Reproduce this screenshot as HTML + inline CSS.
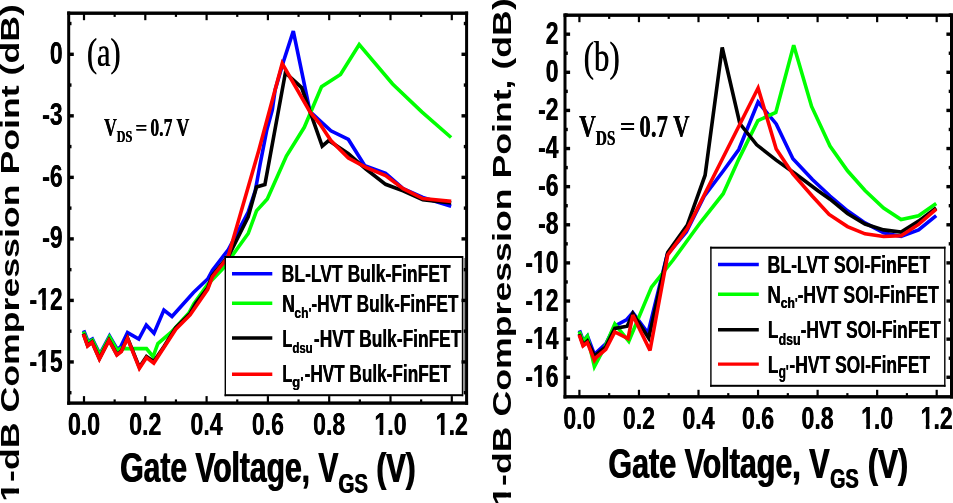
<!DOCTYPE html>
<html><head><meta charset="utf-8"><style>html,body{margin:0;padding:0;background:#fff;width:953px;height:503px;overflow:hidden}svg{display:block;will-change:transform}</style></head>
<body>
<svg width="953" height="503" viewBox="0 0 953 503">
<rect width="953" height="503" fill="#fff"/>
<polyline points="83.7,330.3 88.0,341.5 92.4,339.0 99.9,354.2 109.5,336.0 117.3,349.5 120.8,346.5 127.5,332.6 138.8,339.0 146.3,325.0 154.0,333.2 163.9,310.1 172.0,316.5 193.5,292.5 207.7,279.0 212.5,270.2 228.4,249.5 248.2,212.0 255.3,190.6 260.1,164.3 266.8,130.0 272.3,110.0 275.1,90.0 283.3,62.0 293.3,31.1 310.0,111.5 320.0,120.9 330.9,130.8 348.4,139.5 364.8,165.8 385.6,173.4 403.1,188.7 422.8,197.5 451.2,206.2" fill="none" stroke="#0000ff" stroke-width="3.6" stroke-linejoin="miter" stroke-miterlimit="3" />
<polyline points="83.4,331.6 88.0,342.5 92.4,340.0 99.9,355.2 109.5,337.0 117.3,350.5 120.8,348.2 123.9,348.6 146.5,348.6 153.1,356.7 157.9,343.5 171.0,332.5 188.9,313.0 193.7,304.0 207.7,284.5 223.6,267.8 232.7,255.0 248.2,233.5 256.5,210.9 267.3,198.9 286.4,156.0 304.3,127.3 321.5,86.8 340.5,74.5 359.2,44.5 392.6,84.0 421.8,111.8 451.1,137.5" fill="none" stroke="#00ff00" stroke-width="3.6" stroke-linejoin="miter" stroke-miterlimit="3" />
<polyline points="83.4,333.7 87.6,345.5 92.0,341.8 99.4,358.5 109.0,340.0 116.9,354.5 121.3,351.2 127.5,337.8 139.4,367.3 146.5,356.5 153.8,361.5 164.0,346.5 175.8,327.7 190.1,313.4 196.0,303.0 201.4,296.0 207.7,287.8 212.0,276.0 229.1,255.0 248.2,216.8 256.5,187.0 264.9,184.6 285.4,72.7 301.6,87.6 322.2,146.1 328.7,140.6 348.4,153.7 365.9,169.0 385.6,184.3 403.1,190.9 422.8,199.7 451.2,202.9" fill="none" stroke="#000" stroke-width="3.6" stroke-linejoin="miter" stroke-miterlimit="3" />
<polyline points="83.4,334.2 87.6,346.0 92.0,342.3 99.4,359.0 109.0,340.5 116.9,355.0 121.3,351.7 127.5,338.3 139.4,368.3 146.5,357.5 153.8,363.1 175.8,329.2 190.1,314.9 207.7,289.3 212.5,276.6 227.9,257.4 258.9,150.0 282.2,63.5 310.0,112.0 320.0,124.0 330.9,140.6 348.4,158.1 365.9,167.3 385.6,175.6 403.1,188.7 422.8,198.6 451.2,201.4" fill="none" stroke="#ff0000" stroke-width="3.6" stroke-linejoin="miter" stroke-miterlimit="3" />
<rect x="225.30" y="257.00" width="237.20" height="138.20" fill="#fff"/>
<rect x="224.60" y="256.00" width="238.60" height="2.00" fill="#000"/>
<rect x="224.60" y="394.20" width="238.60" height="2.00" fill="#000"/>
<rect x="224.60" y="256.00" width="1.40" height="140.20" fill="#000"/>
<rect x="461.80" y="256.00" width="1.40" height="140.20" fill="#000"/>
<rect x="463.2" y="258" width="2.2" height="136" fill="#8c8c8c"/>
<line x1="232.00" y1="273.70" x2="272.30" y2="273.70" stroke="#0000ff" stroke-width="3.4"/>
<line x1="232.00" y1="303.20" x2="272.30" y2="303.20" stroke="#00ff00" stroke-width="3.4"/>
<line x1="232.00" y1="338.00" x2="272.30" y2="338.00" stroke="#000" stroke-width="3.4"/>
<line x1="232.00" y1="374.20" x2="272.30" y2="374.20" stroke="#ff0000" stroke-width="3.4"/>
<line x1="84.00" y1="403.10" x2="84.00" y2="396.10" stroke="#000" stroke-width="2.2"/>
<line x1="84.00" y1="13.20" x2="84.00" y2="20.20" stroke="#000" stroke-width="2.2"/>
<line x1="145.30" y1="403.10" x2="145.30" y2="396.10" stroke="#000" stroke-width="2.2"/>
<line x1="145.30" y1="13.20" x2="145.30" y2="20.20" stroke="#000" stroke-width="2.2"/>
<line x1="206.60" y1="403.10" x2="206.60" y2="396.10" stroke="#000" stroke-width="2.2"/>
<line x1="206.60" y1="13.20" x2="206.60" y2="20.20" stroke="#000" stroke-width="2.2"/>
<line x1="267.90" y1="403.10" x2="267.90" y2="396.10" stroke="#000" stroke-width="2.2"/>
<line x1="267.90" y1="13.20" x2="267.90" y2="20.20" stroke="#000" stroke-width="2.2"/>
<line x1="329.20" y1="403.10" x2="329.20" y2="396.10" stroke="#000" stroke-width="2.2"/>
<line x1="329.20" y1="13.20" x2="329.20" y2="20.20" stroke="#000" stroke-width="2.2"/>
<line x1="390.50" y1="403.10" x2="390.50" y2="396.10" stroke="#000" stroke-width="2.2"/>
<line x1="390.50" y1="13.20" x2="390.50" y2="20.20" stroke="#000" stroke-width="2.2"/>
<line x1="451.80" y1="403.10" x2="451.80" y2="396.10" stroke="#000" stroke-width="2.2"/>
<line x1="451.80" y1="13.20" x2="451.80" y2="20.20" stroke="#000" stroke-width="2.2"/>
<line x1="114.65" y1="403.10" x2="114.65" y2="399.40" stroke="#000" stroke-width="2.2"/>
<line x1="114.65" y1="13.20" x2="114.65" y2="16.90" stroke="#000" stroke-width="2.2"/>
<line x1="175.95" y1="403.10" x2="175.95" y2="399.40" stroke="#000" stroke-width="2.2"/>
<line x1="175.95" y1="13.20" x2="175.95" y2="16.90" stroke="#000" stroke-width="2.2"/>
<line x1="237.25" y1="403.10" x2="237.25" y2="399.40" stroke="#000" stroke-width="2.2"/>
<line x1="237.25" y1="13.20" x2="237.25" y2="16.90" stroke="#000" stroke-width="2.2"/>
<line x1="298.55" y1="403.10" x2="298.55" y2="399.40" stroke="#000" stroke-width="2.2"/>
<line x1="298.55" y1="13.20" x2="298.55" y2="16.90" stroke="#000" stroke-width="2.2"/>
<line x1="359.85" y1="403.10" x2="359.85" y2="399.40" stroke="#000" stroke-width="2.2"/>
<line x1="359.85" y1="13.20" x2="359.85" y2="16.90" stroke="#000" stroke-width="2.2"/>
<line x1="421.15" y1="403.10" x2="421.15" y2="399.40" stroke="#000" stroke-width="2.2"/>
<line x1="421.15" y1="13.20" x2="421.15" y2="16.90" stroke="#000" stroke-width="2.2"/>
<line x1="68.70" y1="54.30" x2="73.80" y2="54.30" stroke="#000" stroke-width="3.4"/>
<line x1="466.60" y1="54.30" x2="461.50" y2="54.30" stroke="#000" stroke-width="3.4"/>
<line x1="68.70" y1="115.83" x2="73.80" y2="115.83" stroke="#000" stroke-width="3.4"/>
<line x1="466.60" y1="115.83" x2="461.50" y2="115.83" stroke="#000" stroke-width="3.4"/>
<line x1="68.70" y1="177.36" x2="73.80" y2="177.36" stroke="#000" stroke-width="3.4"/>
<line x1="466.60" y1="177.36" x2="461.50" y2="177.36" stroke="#000" stroke-width="3.4"/>
<line x1="68.70" y1="238.89" x2="73.80" y2="238.89" stroke="#000" stroke-width="3.4"/>
<line x1="466.60" y1="238.89" x2="461.50" y2="238.89" stroke="#000" stroke-width="3.4"/>
<line x1="68.70" y1="300.42" x2="73.80" y2="300.42" stroke="#000" stroke-width="3.4"/>
<line x1="466.60" y1="300.42" x2="461.50" y2="300.42" stroke="#000" stroke-width="3.4"/>
<line x1="68.70" y1="361.95" x2="73.80" y2="361.95" stroke="#000" stroke-width="3.4"/>
<line x1="466.60" y1="361.95" x2="461.50" y2="361.95" stroke="#000" stroke-width="3.4"/>
<line x1="68.70" y1="23.53" x2="71.50" y2="23.53" stroke="#000" stroke-width="3.4"/>
<line x1="466.60" y1="23.53" x2="463.80" y2="23.53" stroke="#000" stroke-width="3.4"/>
<line x1="68.70" y1="85.06" x2="71.50" y2="85.06" stroke="#000" stroke-width="3.4"/>
<line x1="466.60" y1="85.06" x2="463.80" y2="85.06" stroke="#000" stroke-width="3.4"/>
<line x1="68.70" y1="146.59" x2="71.50" y2="146.59" stroke="#000" stroke-width="3.4"/>
<line x1="466.60" y1="146.59" x2="463.80" y2="146.59" stroke="#000" stroke-width="3.4"/>
<line x1="68.70" y1="208.12" x2="71.50" y2="208.12" stroke="#000" stroke-width="3.4"/>
<line x1="466.60" y1="208.12" x2="463.80" y2="208.12" stroke="#000" stroke-width="3.4"/>
<line x1="68.70" y1="269.66" x2="71.50" y2="269.66" stroke="#000" stroke-width="3.4"/>
<line x1="466.60" y1="269.66" x2="463.80" y2="269.66" stroke="#000" stroke-width="3.4"/>
<line x1="68.70" y1="331.19" x2="71.50" y2="331.19" stroke="#000" stroke-width="3.4"/>
<line x1="466.60" y1="331.19" x2="463.80" y2="331.19" stroke="#000" stroke-width="3.4"/>
<line x1="68.70" y1="392.72" x2="71.50" y2="392.72" stroke="#000" stroke-width="3.4"/>
<line x1="466.60" y1="392.72" x2="463.80" y2="392.72" stroke="#000" stroke-width="3.4"/>
<rect x="67.20" y="11.50" width="400.90" height="3.40" fill="#000"/>
<rect x="67.20" y="401.40" width="400.90" height="3.40" fill="#000"/>
<rect x="67.20" y="11.50" width="3.00" height="393.30" fill="#000"/>
<rect x="465.10" y="11.50" width="3.00" height="393.30" fill="#000"/>
<polyline points="579.5,330.4 583.4,341.0 587.4,336.0 594.4,354.3 605.8,343.9 614.8,326.0 626.4,319.9 632.8,312.7 648.0,333.0 667.2,254.6 686.3,231.9 704.2,196.1 723.2,171.0 738.8,149.5 758.1,102.0 776.2,123.9 792.9,158.7 812.4,179.6 830.0,196.0 847.5,210.8 865.0,222.9 883.6,232.7 901.1,236.5 918.6,229.9 936.2,215.7" fill="none" stroke="#0000ff" stroke-width="3.6" stroke-linejoin="miter" stroke-miterlimit="3" />
<polyline points="579.2,331.4 583.4,341.4 587.4,336.4 594.4,366.7 605.8,345.0 614.8,324.0 628.8,341.3 651.5,287.1 673.1,260.0 700.6,222.3 723.2,193.7 738.8,159.1 757.9,120.7 775.8,112.4 793.7,45.3 811.6,106.4 830.0,146.0 847.5,170.8 865.0,190.5 883.6,208.0 901.1,219.6 918.6,215.7 936.2,203.6" fill="none" stroke="#00ff00" stroke-width="3.6" stroke-linejoin="miter" stroke-miterlimit="3" />
<polyline points="579.3,334.0 583.2,345.0 587.4,341.0 594.4,355.8 605.8,346.8 614.8,328.4 627.2,326.2 632.8,313.5 648.7,338.1 667.7,252.5 687.3,225.0 705.1,175.2 722.2,47.5 739.8,123.5 756.7,144.8 776.2,160.1 795.7,174.0 818.0,190.8 830.0,199.2 847.5,213.5 865.0,224.0 883.6,229.9 901.1,232.1 918.6,221.1 936.2,208.0" fill="none" stroke="#000" stroke-width="3.6" stroke-linejoin="miter" stroke-miterlimit="3" />
<polyline points="579.2,334.9 583.0,345.8 587.4,342.5 594.4,360.3 596.4,357.3 605.8,349.3 614.8,332.0 628.0,338.6 632.8,315.1 650.0,350.5 667.7,254.9 687.3,228.6 758.1,88.0 776.2,149.0 792.9,174.0 812.4,196.3 829.1,214.4 847.5,226.6 865.0,233.8 883.6,236.5 901.1,235.8 918.6,224.4 936.2,209.1" fill="none" stroke="#ff0000" stroke-width="3.6" stroke-linejoin="miter" stroke-miterlimit="3" />
<rect x="710.90" y="247.70" width="233.90" height="138.10" fill="#fff"/>
<rect x="710.20" y="246.70" width="235.30" height="2.00" fill="#000"/>
<rect x="710.20" y="384.80" width="235.30" height="2.00" fill="#000"/>
<rect x="710.20" y="246.70" width="1.40" height="140.10" fill="#000"/>
<rect x="944.10" y="246.70" width="1.40" height="140.10" fill="#000"/>
<line x1="718.00" y1="264.50" x2="758.80" y2="264.50" stroke="#0000ff" stroke-width="3.4"/>
<line x1="718.00" y1="294.30" x2="758.80" y2="294.30" stroke="#00ff00" stroke-width="3.4"/>
<line x1="718.00" y1="329.70" x2="758.80" y2="329.70" stroke="#000" stroke-width="3.4"/>
<line x1="718.00" y1="364.10" x2="758.80" y2="364.10" stroke="#ff0000" stroke-width="3.4"/>
<line x1="579.40" y1="396.80" x2="579.40" y2="389.80" stroke="#000" stroke-width="2.2"/>
<line x1="579.40" y1="15.20" x2="579.40" y2="22.20" stroke="#000" stroke-width="2.2"/>
<line x1="638.95" y1="396.80" x2="638.95" y2="389.80" stroke="#000" stroke-width="2.2"/>
<line x1="638.95" y1="15.20" x2="638.95" y2="22.20" stroke="#000" stroke-width="2.2"/>
<line x1="698.50" y1="396.80" x2="698.50" y2="389.80" stroke="#000" stroke-width="2.2"/>
<line x1="698.50" y1="15.20" x2="698.50" y2="22.20" stroke="#000" stroke-width="2.2"/>
<line x1="758.05" y1="396.80" x2="758.05" y2="389.80" stroke="#000" stroke-width="2.2"/>
<line x1="758.05" y1="15.20" x2="758.05" y2="22.20" stroke="#000" stroke-width="2.2"/>
<line x1="817.60" y1="396.80" x2="817.60" y2="389.80" stroke="#000" stroke-width="2.2"/>
<line x1="817.60" y1="15.20" x2="817.60" y2="22.20" stroke="#000" stroke-width="2.2"/>
<line x1="877.15" y1="396.80" x2="877.15" y2="389.80" stroke="#000" stroke-width="2.2"/>
<line x1="877.15" y1="15.20" x2="877.15" y2="22.20" stroke="#000" stroke-width="2.2"/>
<line x1="936.70" y1="396.80" x2="936.70" y2="389.80" stroke="#000" stroke-width="2.2"/>
<line x1="936.70" y1="15.20" x2="936.70" y2="22.20" stroke="#000" stroke-width="2.2"/>
<line x1="609.17" y1="396.80" x2="609.17" y2="393.10" stroke="#000" stroke-width="2.2"/>
<line x1="609.17" y1="15.20" x2="609.17" y2="18.90" stroke="#000" stroke-width="2.2"/>
<line x1="668.73" y1="396.80" x2="668.73" y2="393.10" stroke="#000" stroke-width="2.2"/>
<line x1="668.73" y1="15.20" x2="668.73" y2="18.90" stroke="#000" stroke-width="2.2"/>
<line x1="728.27" y1="396.80" x2="728.27" y2="393.10" stroke="#000" stroke-width="2.2"/>
<line x1="728.27" y1="15.20" x2="728.27" y2="18.90" stroke="#000" stroke-width="2.2"/>
<line x1="787.83" y1="396.80" x2="787.83" y2="393.10" stroke="#000" stroke-width="2.2"/>
<line x1="787.83" y1="15.20" x2="787.83" y2="18.90" stroke="#000" stroke-width="2.2"/>
<line x1="847.38" y1="396.80" x2="847.38" y2="393.10" stroke="#000" stroke-width="2.2"/>
<line x1="847.38" y1="15.20" x2="847.38" y2="18.90" stroke="#000" stroke-width="2.2"/>
<line x1="906.92" y1="396.80" x2="906.92" y2="393.10" stroke="#000" stroke-width="2.2"/>
<line x1="906.92" y1="15.20" x2="906.92" y2="18.90" stroke="#000" stroke-width="2.2"/>
<line x1="565.00" y1="34.18" x2="570.10" y2="34.18" stroke="#000" stroke-width="3.4"/>
<line x1="951.50" y1="34.18" x2="946.40" y2="34.18" stroke="#000" stroke-width="3.4"/>
<line x1="565.00" y1="72.30" x2="570.10" y2="72.30" stroke="#000" stroke-width="3.4"/>
<line x1="951.50" y1="72.30" x2="946.40" y2="72.30" stroke="#000" stroke-width="3.4"/>
<line x1="565.00" y1="110.42" x2="570.10" y2="110.42" stroke="#000" stroke-width="3.4"/>
<line x1="951.50" y1="110.42" x2="946.40" y2="110.42" stroke="#000" stroke-width="3.4"/>
<line x1="565.00" y1="148.54" x2="570.10" y2="148.54" stroke="#000" stroke-width="3.4"/>
<line x1="951.50" y1="148.54" x2="946.40" y2="148.54" stroke="#000" stroke-width="3.4"/>
<line x1="565.00" y1="186.66" x2="570.10" y2="186.66" stroke="#000" stroke-width="3.4"/>
<line x1="951.50" y1="186.66" x2="946.40" y2="186.66" stroke="#000" stroke-width="3.4"/>
<line x1="565.00" y1="224.78" x2="570.10" y2="224.78" stroke="#000" stroke-width="3.4"/>
<line x1="951.50" y1="224.78" x2="946.40" y2="224.78" stroke="#000" stroke-width="3.4"/>
<line x1="565.00" y1="262.90" x2="570.10" y2="262.90" stroke="#000" stroke-width="3.4"/>
<line x1="951.50" y1="262.90" x2="946.40" y2="262.90" stroke="#000" stroke-width="3.4"/>
<line x1="565.00" y1="301.02" x2="570.10" y2="301.02" stroke="#000" stroke-width="3.4"/>
<line x1="951.50" y1="301.02" x2="946.40" y2="301.02" stroke="#000" stroke-width="3.4"/>
<line x1="565.00" y1="339.14" x2="570.10" y2="339.14" stroke="#000" stroke-width="3.4"/>
<line x1="951.50" y1="339.14" x2="946.40" y2="339.14" stroke="#000" stroke-width="3.4"/>
<line x1="565.00" y1="377.26" x2="570.10" y2="377.26" stroke="#000" stroke-width="3.4"/>
<line x1="951.50" y1="377.26" x2="946.40" y2="377.26" stroke="#000" stroke-width="3.4"/>
<line x1="565.00" y1="15.12" x2="567.80" y2="15.12" stroke="#000" stroke-width="3.4"/>
<line x1="951.50" y1="15.12" x2="948.70" y2="15.12" stroke="#000" stroke-width="3.4"/>
<line x1="565.00" y1="53.24" x2="567.80" y2="53.24" stroke="#000" stroke-width="3.4"/>
<line x1="951.50" y1="53.24" x2="948.70" y2="53.24" stroke="#000" stroke-width="3.4"/>
<line x1="565.00" y1="91.36" x2="567.80" y2="91.36" stroke="#000" stroke-width="3.4"/>
<line x1="951.50" y1="91.36" x2="948.70" y2="91.36" stroke="#000" stroke-width="3.4"/>
<line x1="565.00" y1="129.48" x2="567.80" y2="129.48" stroke="#000" stroke-width="3.4"/>
<line x1="951.50" y1="129.48" x2="948.70" y2="129.48" stroke="#000" stroke-width="3.4"/>
<line x1="565.00" y1="167.60" x2="567.80" y2="167.60" stroke="#000" stroke-width="3.4"/>
<line x1="951.50" y1="167.60" x2="948.70" y2="167.60" stroke="#000" stroke-width="3.4"/>
<line x1="565.00" y1="205.72" x2="567.80" y2="205.72" stroke="#000" stroke-width="3.4"/>
<line x1="951.50" y1="205.72" x2="948.70" y2="205.72" stroke="#000" stroke-width="3.4"/>
<line x1="565.00" y1="243.84" x2="567.80" y2="243.84" stroke="#000" stroke-width="3.4"/>
<line x1="951.50" y1="243.84" x2="948.70" y2="243.84" stroke="#000" stroke-width="3.4"/>
<line x1="565.00" y1="281.96" x2="567.80" y2="281.96" stroke="#000" stroke-width="3.4"/>
<line x1="951.50" y1="281.96" x2="948.70" y2="281.96" stroke="#000" stroke-width="3.4"/>
<line x1="565.00" y1="320.08" x2="567.80" y2="320.08" stroke="#000" stroke-width="3.4"/>
<line x1="951.50" y1="320.08" x2="948.70" y2="320.08" stroke="#000" stroke-width="3.4"/>
<line x1="565.00" y1="358.20" x2="567.80" y2="358.20" stroke="#000" stroke-width="3.4"/>
<line x1="951.50" y1="358.20" x2="948.70" y2="358.20" stroke="#000" stroke-width="3.4"/>
<rect x="563.50" y="13.50" width="389.50" height="3.40" fill="#000"/>
<rect x="563.50" y="395.10" width="389.50" height="3.40" fill="#000"/>
<rect x="563.50" y="13.50" width="3.00" height="385.00" fill="#000"/>
<rect x="950.00" y="13.50" width="3.00" height="385.00" fill="#000"/>
<g transform="translate(18.80 501.80) rotate(-90) scale(0.3570 0.2551)"><text font-family="Liberation Sans" font-weight="bold" font-style="normal" font-size="100" xml:space="preserve">1-dB Compression Point (dB)</text><rect x="2.30" y="-17.21" width="20.74" height="24.21" fill="#fff"/><rect x="37.36" y="-17.21" width="19.77" height="24.21" fill="#fff"/></g>
<g transform="translate(510.80 505.80) rotate(-90) scale(0.3570 0.2652)"><text font-family="Liberation Sans" font-weight="bold" font-style="normal" font-size="100" xml:space="preserve">1-dB Compression Point, (dB)</text><rect x="2.30" y="-17.21" width="20.74" height="24.21" fill="#fff"/><rect x="37.36" y="-17.21" width="19.77" height="24.21" fill="#fff"/></g>
<g transform="translate(119.80 482.00) scale(0.3006 0.4300)"><text font-family="Liberation Sans" font-weight="bold" font-style="normal" font-size="100" xml:space="preserve">Gate Voltage, V</text><text x="2.99" y="0.00" font-family="Liberation Sans" font-weight="bold" font-style="normal" font-size="100" xml:space="preserve">Gate Voltage, V</text></g>
<g transform="translate(338.09 492.62) scale(0.2037 0.2845)"><text font-family="Liberation Sans" font-weight="bold" font-style="normal" font-size="100" xml:space="preserve">GS</text><text x="4.42" y="0.00" font-family="Liberation Sans" font-weight="bold" font-style="normal" font-size="100" xml:space="preserve">GS</text></g>
<g transform="translate(376.03 481.96) scale(0.2935 0.4021)"><text font-family="Liberation Sans" font-weight="bold" font-style="normal" font-size="100" xml:space="preserve">(V)</text><text x="3.07" y="0.00" font-family="Liberation Sans" font-weight="bold" font-style="normal" font-size="100" xml:space="preserve">(V)</text></g>
<g transform="translate(607.98 478.00) scale(0.3046 0.4343)"><text font-family="Liberation Sans" font-weight="bold" font-style="normal" font-size="100" xml:space="preserve">Gate Voltage, V</text><text x="2.95" y="0.00" font-family="Liberation Sans" font-weight="bold" font-style="normal" font-size="100" xml:space="preserve">Gate Voltage, V</text></g>
<g transform="translate(829.71 488.43) scale(0.1971 0.2718)"><text font-family="Liberation Sans" font-weight="bold" font-style="normal" font-size="100" xml:space="preserve">GS</text><text x="4.57" y="0.00" font-family="Liberation Sans" font-weight="bold" font-style="normal" font-size="100" xml:space="preserve">GS</text></g>
<g transform="translate(867.60 477.76) scale(0.3000 0.4021)"><text font-family="Liberation Sans" font-weight="bold" font-style="normal" font-size="100" xml:space="preserve">(V)</text><text x="3.00" y="0.00" font-family="Liberation Sans" font-weight="bold" font-style="normal" font-size="100" xml:space="preserve">(V)</text></g>
<g transform="translate(67.74 435.19) scale(0.2310 0.3056)"><text font-family="Liberation Sans" font-weight="bold" font-style="normal" font-size="100" xml:space="preserve">0.0</text><text x="1.73" y="0.00" font-family="Liberation Sans" font-weight="bold" font-style="normal" font-size="100" xml:space="preserve">0.0</text></g>
<g transform="translate(563.14 428.58) scale(0.2310 0.3155)"><text font-family="Liberation Sans" font-weight="bold" font-style="normal" font-size="100" xml:space="preserve">0.0</text><text x="1.73" y="0.00" font-family="Liberation Sans" font-weight="bold" font-style="normal" font-size="100" xml:space="preserve">0.0</text></g>
<g transform="translate(129.04 435.19) scale(0.2310 0.3056)"><text font-family="Liberation Sans" font-weight="bold" font-style="normal" font-size="100" xml:space="preserve">0.2</text><text x="1.73" y="0.00" font-family="Liberation Sans" font-weight="bold" font-style="normal" font-size="100" xml:space="preserve">0.2</text></g>
<g transform="translate(622.69 428.58) scale(0.2310 0.3155)"><text font-family="Liberation Sans" font-weight="bold" font-style="normal" font-size="100" xml:space="preserve">0.2</text><text x="1.73" y="0.00" font-family="Liberation Sans" font-weight="bold" font-style="normal" font-size="100" xml:space="preserve">0.2</text></g>
<g transform="translate(190.34 435.19) scale(0.2310 0.3056)"><text font-family="Liberation Sans" font-weight="bold" font-style="normal" font-size="100" xml:space="preserve">0.4</text><text x="1.73" y="0.00" font-family="Liberation Sans" font-weight="bold" font-style="normal" font-size="100" xml:space="preserve">0.4</text></g>
<g transform="translate(682.24 428.58) scale(0.2310 0.3155)"><text font-family="Liberation Sans" font-weight="bold" font-style="normal" font-size="100" xml:space="preserve">0.4</text><text x="1.73" y="0.00" font-family="Liberation Sans" font-weight="bold" font-style="normal" font-size="100" xml:space="preserve">0.4</text></g>
<g transform="translate(251.64 435.19) scale(0.2310 0.3056)"><text font-family="Liberation Sans" font-weight="bold" font-style="normal" font-size="100" xml:space="preserve">0.6</text><text x="1.73" y="0.00" font-family="Liberation Sans" font-weight="bold" font-style="normal" font-size="100" xml:space="preserve">0.6</text></g>
<g transform="translate(741.79 428.58) scale(0.2310 0.3155)"><text font-family="Liberation Sans" font-weight="bold" font-style="normal" font-size="100" xml:space="preserve">0.6</text><text x="1.73" y="0.00" font-family="Liberation Sans" font-weight="bold" font-style="normal" font-size="100" xml:space="preserve">0.6</text></g>
<g transform="translate(312.94 435.19) scale(0.2310 0.3056)"><text font-family="Liberation Sans" font-weight="bold" font-style="normal" font-size="100" xml:space="preserve">0.8</text><text x="1.73" y="0.00" font-family="Liberation Sans" font-weight="bold" font-style="normal" font-size="100" xml:space="preserve">0.8</text></g>
<g transform="translate(801.34 428.58) scale(0.2310 0.3155)"><text font-family="Liberation Sans" font-weight="bold" font-style="normal" font-size="100" xml:space="preserve">0.8</text><text x="1.73" y="0.00" font-family="Liberation Sans" font-weight="bold" font-style="normal" font-size="100" xml:space="preserve">0.8</text></g>
<g transform="translate(374.24 435.19) scale(0.2310 0.3056)"><text font-family="Liberation Sans" font-weight="bold" font-style="normal" font-size="100" xml:space="preserve">1.0</text><text x="1.73" y="0.00" font-family="Liberation Sans" font-weight="bold" font-style="normal" font-size="100" xml:space="preserve">1.0</text><rect x="2.30" y="-17.21" width="20.74" height="24.21" fill="#fff"/><rect x="39.09" y="-17.21" width="19.77" height="24.21" fill="#fff"/></g>
<g transform="translate(860.89 428.58) scale(0.2310 0.3155)"><text font-family="Liberation Sans" font-weight="bold" font-style="normal" font-size="100" xml:space="preserve">1.0</text><text x="1.73" y="0.00" font-family="Liberation Sans" font-weight="bold" font-style="normal" font-size="100" xml:space="preserve">1.0</text><rect x="2.30" y="-17.21" width="20.74" height="24.21" fill="#fff"/><rect x="39.09" y="-17.21" width="19.77" height="24.21" fill="#fff"/></g>
<g transform="translate(435.54 435.19) scale(0.2310 0.3056)"><text font-family="Liberation Sans" font-weight="bold" font-style="normal" font-size="100" xml:space="preserve">1.2</text><text x="1.73" y="0.00" font-family="Liberation Sans" font-weight="bold" font-style="normal" font-size="100" xml:space="preserve">1.2</text><rect x="2.30" y="-17.21" width="20.74" height="24.21" fill="#fff"/><rect x="39.09" y="-17.21" width="19.77" height="24.21" fill="#fff"/></g>
<g transform="translate(920.44 428.58) scale(0.2310 0.3155)"><text font-family="Liberation Sans" font-weight="bold" font-style="normal" font-size="100" xml:space="preserve">1.2</text><text x="1.73" y="0.00" font-family="Liberation Sans" font-weight="bold" font-style="normal" font-size="100" xml:space="preserve">1.2</text><rect x="2.30" y="-17.21" width="20.74" height="24.21" fill="#fff"/><rect x="39.09" y="-17.21" width="19.77" height="24.21" fill="#fff"/></g>
<g transform="translate(49.66 63.88) scale(0.2290 0.3155)"><text font-family="Liberation Sans" font-weight="bold" font-style="normal" font-size="100" xml:space="preserve">0</text><text x="1.75" y="0.00" font-family="Liberation Sans" font-weight="bold" font-style="normal" font-size="100" xml:space="preserve">0</text></g>
<g transform="translate(42.04 125.41) scale(0.2290 0.3155)"><text font-family="Liberation Sans" font-weight="bold" font-style="normal" font-size="100" xml:space="preserve">-3</text><text x="1.75" y="0.00" font-family="Liberation Sans" font-weight="bold" font-style="normal" font-size="100" xml:space="preserve">-3</text></g>
<g transform="translate(42.04 186.94) scale(0.2290 0.3155)"><text font-family="Liberation Sans" font-weight="bold" font-style="normal" font-size="100" xml:space="preserve">-6</text><text x="1.75" y="0.00" font-family="Liberation Sans" font-weight="bold" font-style="normal" font-size="100" xml:space="preserve">-6</text></g>
<g transform="translate(42.04 248.47) scale(0.2290 0.3155)"><text font-family="Liberation Sans" font-weight="bold" font-style="normal" font-size="100" xml:space="preserve">-9</text><text x="1.75" y="0.00" font-family="Liberation Sans" font-weight="bold" font-style="normal" font-size="100" xml:space="preserve">-9</text></g>
<g transform="translate(29.30 310.00) scale(0.2290 0.3155)"><text font-family="Liberation Sans" font-weight="bold" font-style="normal" font-size="100" xml:space="preserve">-12</text><text x="1.75" y="0.00" font-family="Liberation Sans" font-weight="bold" font-style="normal" font-size="100" xml:space="preserve">-12</text><rect x="35.60" y="-17.21" width="20.74" height="24.21" fill="#fff"/><rect x="72.41" y="-17.21" width="19.77" height="24.21" fill="#fff"/></g>
<g transform="translate(29.30 371.53) scale(0.2290 0.3155)"><text font-family="Liberation Sans" font-weight="bold" font-style="normal" font-size="100" xml:space="preserve">-15</text><text x="1.75" y="0.00" font-family="Liberation Sans" font-weight="bold" font-style="normal" font-size="100" xml:space="preserve">-15</text><rect x="35.60" y="-17.21" width="20.74" height="24.21" fill="#fff"/><rect x="72.41" y="-17.21" width="19.77" height="24.21" fill="#fff"/></g>
<g transform="translate(545.56 43.86) scale(0.2290 0.3155)"><text font-family="Liberation Sans" font-weight="bold" font-style="normal" font-size="100" xml:space="preserve">2</text><text x="1.75" y="0.00" font-family="Liberation Sans" font-weight="bold" font-style="normal" font-size="100" xml:space="preserve">2</text></g>
<g transform="translate(545.56 81.98) scale(0.2290 0.3155)"><text font-family="Liberation Sans" font-weight="bold" font-style="normal" font-size="100" xml:space="preserve">0</text><text x="1.75" y="0.00" font-family="Liberation Sans" font-weight="bold" font-style="normal" font-size="100" xml:space="preserve">0</text></g>
<g transform="translate(537.94 120.10) scale(0.2290 0.3155)"><text font-family="Liberation Sans" font-weight="bold" font-style="normal" font-size="100" xml:space="preserve">-2</text><text x="1.75" y="0.00" font-family="Liberation Sans" font-weight="bold" font-style="normal" font-size="100" xml:space="preserve">-2</text></g>
<g transform="translate(537.94 158.22) scale(0.2290 0.3155)"><text font-family="Liberation Sans" font-weight="bold" font-style="normal" font-size="100" xml:space="preserve">-4</text><text x="1.75" y="0.00" font-family="Liberation Sans" font-weight="bold" font-style="normal" font-size="100" xml:space="preserve">-4</text></g>
<g transform="translate(537.94 196.34) scale(0.2290 0.3155)"><text font-family="Liberation Sans" font-weight="bold" font-style="normal" font-size="100" xml:space="preserve">-6</text><text x="1.75" y="0.00" font-family="Liberation Sans" font-weight="bold" font-style="normal" font-size="100" xml:space="preserve">-6</text></g>
<g transform="translate(537.94 234.46) scale(0.2290 0.3155)"><text font-family="Liberation Sans" font-weight="bold" font-style="normal" font-size="100" xml:space="preserve">-8</text><text x="1.75" y="0.00" font-family="Liberation Sans" font-weight="bold" font-style="normal" font-size="100" xml:space="preserve">-8</text></g>
<g transform="translate(525.20 272.58) scale(0.2290 0.3155)"><text font-family="Liberation Sans" font-weight="bold" font-style="normal" font-size="100" xml:space="preserve">-10</text><text x="1.75" y="0.00" font-family="Liberation Sans" font-weight="bold" font-style="normal" font-size="100" xml:space="preserve">-10</text><rect x="35.60" y="-17.21" width="20.74" height="24.21" fill="#fff"/><rect x="72.41" y="-17.21" width="19.77" height="24.21" fill="#fff"/></g>
<g transform="translate(525.20 310.70) scale(0.2290 0.3155)"><text font-family="Liberation Sans" font-weight="bold" font-style="normal" font-size="100" xml:space="preserve">-12</text><text x="1.75" y="0.00" font-family="Liberation Sans" font-weight="bold" font-style="normal" font-size="100" xml:space="preserve">-12</text><rect x="35.60" y="-17.21" width="20.74" height="24.21" fill="#fff"/><rect x="72.41" y="-17.21" width="19.77" height="24.21" fill="#fff"/></g>
<g transform="translate(525.20 348.82) scale(0.2290 0.3155)"><text font-family="Liberation Sans" font-weight="bold" font-style="normal" font-size="100" xml:space="preserve">-14</text><text x="1.75" y="0.00" font-family="Liberation Sans" font-weight="bold" font-style="normal" font-size="100" xml:space="preserve">-14</text><rect x="35.60" y="-17.21" width="20.74" height="24.21" fill="#fff"/><rect x="72.41" y="-17.21" width="19.77" height="24.21" fill="#fff"/></g>
<g transform="translate(525.20 386.94) scale(0.2290 0.3155)"><text font-family="Liberation Sans" font-weight="bold" font-style="normal" font-size="100" xml:space="preserve">-16</text><text x="1.75" y="0.00" font-family="Liberation Sans" font-weight="bold" font-style="normal" font-size="100" xml:space="preserve">-16</text><rect x="35.60" y="-17.21" width="20.74" height="24.21" fill="#fff"/><rect x="72.41" y="-17.21" width="19.77" height="24.21" fill="#fff"/></g>
<g transform="translate(86.68 66.11) scale(0.3039 0.4089)"><text font-family="Liberation Serif" font-weight="normal" font-style="normal" font-size="100" xml:space="preserve">(a)</text><text x="1.65" y="0.00" font-family="Liberation Serif" font-weight="normal" font-style="normal" font-size="100" xml:space="preserve">(a)</text></g>
<g transform="translate(583.57 71.19) scale(0.3074 0.4244)"><text font-family="Liberation Serif" font-weight="normal" font-style="normal" font-size="100" xml:space="preserve">(b)</text><text x="1.63" y="0.00" font-family="Liberation Serif" font-weight="normal" font-style="normal" font-size="100" xml:space="preserve">(b)</text></g>
<g transform="translate(104.02 136.30) scale(0.1757 0.2507)"><text font-family="Liberation Serif" font-weight="bold" font-style="normal" font-size="100" xml:space="preserve">V</text><text x="1.71" y="0.00" font-family="Liberation Serif" font-weight="bold" font-style="normal" font-size="100" xml:space="preserve">V</text></g>
<g transform="translate(116.56 142.16) scale(0.1221 0.1716)"><text font-family="Liberation Serif" font-weight="bold" font-style="normal" font-size="100" xml:space="preserve">DS</text><text x="2.46" y="0.00" font-family="Liberation Serif" font-weight="bold" font-style="normal" font-size="100" xml:space="preserve">DS</text></g>
<g transform="translate(135.15 135.30) scale(0.2109 0.2148)"><text font-family="Liberation Serif" font-weight="bold" font-style="normal" font-size="100" xml:space="preserve">=</text><text x="1.42" y="0.00" font-family="Liberation Serif" font-weight="bold" font-style="normal" font-size="100" xml:space="preserve">=</text></g>
<g transform="translate(150.19 136.30) scale(0.1767 0.2507)"><text font-family="Liberation Serif" font-weight="bold" font-style="normal" font-size="100" xml:space="preserve">0.7 V</text><text x="1.70" y="0.00" font-family="Liberation Serif" font-weight="bold" font-style="normal" font-size="100" xml:space="preserve">0.7 V</text></g>
<g transform="translate(579.07 137.08) scale(0.2329 0.3090)"><text font-family="Liberation Serif" font-weight="bold" font-style="normal" font-size="100" xml:space="preserve">V</text><text x="1.29" y="0.00" font-family="Liberation Serif" font-weight="bold" font-style="normal" font-size="100" xml:space="preserve">V</text></g>
<g transform="translate(595.59 145.47) scale(0.1541 0.2134)"><text font-family="Liberation Serif" font-weight="bold" font-style="normal" font-size="100" xml:space="preserve">DS</text><text x="1.95" y="0.00" font-family="Liberation Serif" font-weight="bold" font-style="normal" font-size="100" xml:space="preserve">DS</text></g>
<g transform="translate(619.83 136.46) scale(0.2739 0.2778)"><text font-family="Liberation Serif" font-weight="bold" font-style="normal" font-size="100" xml:space="preserve">=</text><text x="1.10" y="0.00" font-family="Liberation Serif" font-weight="bold" font-style="normal" font-size="100" xml:space="preserve">=</text></g>
<g transform="translate(639.29 137.07) scale(0.2274 0.3149)"><text font-family="Liberation Serif" font-weight="bold" font-style="normal" font-size="100" xml:space="preserve">0.7 V</text><text x="1.32" y="0.00" font-family="Liberation Serif" font-weight="bold" font-style="normal" font-size="100" xml:space="preserve">0.7 V</text></g>
<g transform="translate(281.57 282.20) scale(0.1752 0.2377)"><text font-family="Liberation Sans" font-weight="bold" font-style="normal" font-size="100" xml:space="preserve">BL-LVT Bulk-FinFET</text><text x="1.71" y="0.00" font-family="Liberation Sans" font-weight="bold" font-style="normal" font-size="100" xml:space="preserve">BL-LVT Bulk-FinFET</text></g>
<g transform="translate(281.96 311.90) scale(0.1776 0.2435)"><text font-family="Liberation Sans" font-weight="bold" font-style="normal" font-size="100" xml:space="preserve">N</text><text x="1.69" y="0.00" font-family="Liberation Sans" font-weight="bold" font-style="normal" font-size="100" xml:space="preserve">N</text></g>
<g transform="translate(294.32 318.20) scale(0.1206 0.1534)"><text font-family="Liberation Sans" font-weight="bold" font-style="normal" font-size="100" xml:space="preserve">ch'</text><text x="2.49" y="0.00" font-family="Liberation Sans" font-weight="bold" font-style="normal" font-size="100" xml:space="preserve">ch'</text></g>
<g transform="translate(311.31 311.90) scale(0.1731 0.2435)"><text font-family="Liberation Sans" font-weight="bold" font-style="normal" font-size="100" xml:space="preserve">-HVT Bulk-FinFET</text><text x="1.73" y="0.00" font-family="Liberation Sans" font-weight="bold" font-style="normal" font-size="100" xml:space="preserve">-HVT Bulk-FinFET</text></g>
<g transform="translate(282.16 347.30) scale(0.1627 0.2420)"><text font-family="Liberation Sans" font-weight="bold" font-style="normal" font-size="100" xml:space="preserve">L</text><text x="1.84" y="0.00" font-family="Liberation Sans" font-weight="bold" font-style="normal" font-size="100" xml:space="preserve">L</text></g>
<g transform="translate(292.14 352.60) scale(0.1150 0.1521)"><text font-family="Liberation Sans" font-weight="bold" font-style="normal" font-size="100" xml:space="preserve">dsu</text><text x="2.61" y="0.00" font-family="Liberation Sans" font-weight="bold" font-style="normal" font-size="100" xml:space="preserve">dsu</text></g>
<g transform="translate(313.81 347.30) scale(0.1735 0.2420)"><text font-family="Liberation Sans" font-weight="bold" font-style="normal" font-size="100" xml:space="preserve">-HVT Bulk-FinFET</text><text x="1.73" y="0.00" font-family="Liberation Sans" font-weight="bold" font-style="normal" font-size="100" xml:space="preserve">-HVT Bulk-FinFET</text></g>
<g transform="translate(282.16 381.80) scale(0.1627 0.2319)"><text font-family="Liberation Sans" font-weight="bold" font-style="normal" font-size="100" xml:space="preserve">L</text><text x="1.84" y="0.00" font-family="Liberation Sans" font-weight="bold" font-style="normal" font-size="100" xml:space="preserve">L</text></g>
<g transform="translate(292.07 387.12) scale(0.1329 0.1467)"><text font-family="Liberation Sans" font-weight="bold" font-style="normal" font-size="100" xml:space="preserve">g'</text><text x="2.26" y="0.00" font-family="Liberation Sans" font-weight="bold" font-style="normal" font-size="100" xml:space="preserve">g'</text></g>
<g transform="translate(304.41 381.80) scale(0.1721 0.2319)"><text font-family="Liberation Sans" font-weight="bold" font-style="normal" font-size="100" xml:space="preserve">-HVT Bulk-FinFET</text><text x="1.74" y="0.00" font-family="Liberation Sans" font-weight="bold" font-style="normal" font-size="100" xml:space="preserve">-HVT Bulk-FinFET</text></g>
<g transform="translate(767.36 272.80) scale(0.1769 0.2391)"><text font-family="Liberation Sans" font-weight="bold" font-style="normal" font-size="100" xml:space="preserve">BL-LVT SOI-FinFET</text><text x="1.70" y="0.00" font-family="Liberation Sans" font-weight="bold" font-style="normal" font-size="100" xml:space="preserve">BL-LVT SOI-FinFET</text></g>
<g transform="translate(767.28 302.50) scale(0.1879 0.2348)"><text font-family="Liberation Sans" font-weight="bold" font-style="normal" font-size="100" xml:space="preserve">N</text><text x="1.60" y="0.00" font-family="Liberation Sans" font-weight="bold" font-style="normal" font-size="100" xml:space="preserve">N</text></g>
<g transform="translate(780.61 308.40) scale(0.1214 0.1521)"><text font-family="Liberation Sans" font-weight="bold" font-style="normal" font-size="100" xml:space="preserve">ch'</text><text x="2.47" y="0.00" font-family="Liberation Sans" font-weight="bold" font-style="normal" font-size="100" xml:space="preserve">ch'</text></g>
<g transform="translate(797.40 302.50) scale(0.1754 0.2348)"><text font-family="Liberation Sans" font-weight="bold" font-style="normal" font-size="100" xml:space="preserve">-HVT SOI-FinFET</text><text x="1.71" y="0.00" font-family="Liberation Sans" font-weight="bold" font-style="normal" font-size="100" xml:space="preserve">-HVT SOI-FinFET</text></g>
<g transform="translate(767.79 337.60) scale(0.1725 0.2377)"><text font-family="Liberation Sans" font-weight="bold" font-style="normal" font-size="100" xml:space="preserve">L</text><text x="1.74" y="0.00" font-family="Liberation Sans" font-weight="bold" font-style="normal" font-size="100" xml:space="preserve">L</text></g>
<g transform="translate(778.40 344.60) scale(0.1240 0.1630)"><text font-family="Liberation Sans" font-weight="bold" font-style="normal" font-size="100" xml:space="preserve">dsu</text><text x="2.42" y="0.00" font-family="Liberation Sans" font-weight="bold" font-style="normal" font-size="100" xml:space="preserve">dsu</text></g>
<g transform="translate(800.50 337.60) scale(0.1740 0.2377)"><text font-family="Liberation Sans" font-weight="bold" font-style="normal" font-size="100" xml:space="preserve">-HVT SOI-FinFET</text><text x="1.72" y="0.00" font-family="Liberation Sans" font-weight="bold" font-style="normal" font-size="100" xml:space="preserve">-HVT SOI-FinFET</text></g>
<g transform="translate(767.79 373.20) scale(0.1725 0.2348)"><text font-family="Liberation Sans" font-weight="bold" font-style="normal" font-size="100" xml:space="preserve">L</text><text x="1.74" y="0.00" font-family="Liberation Sans" font-weight="bold" font-style="normal" font-size="100" xml:space="preserve">L</text></g>
<g transform="translate(778.42 378.29) scale(0.1211 0.1767)"><text font-family="Liberation Sans" font-weight="bold" font-style="normal" font-size="100" xml:space="preserve">g'</text><text x="2.48" y="0.00" font-family="Liberation Sans" font-weight="bold" font-style="normal" font-size="100" xml:space="preserve">g'</text></g>
<g transform="translate(789.30 373.20) scale(0.1747 0.2348)"><text font-family="Liberation Sans" font-weight="bold" font-style="normal" font-size="100" xml:space="preserve">-HVT SOI-FinFET</text><text x="1.72" y="0.00" font-family="Liberation Sans" font-weight="bold" font-style="normal" font-size="100" xml:space="preserve">-HVT SOI-FinFET</text></g>
</svg>
</body></html>
